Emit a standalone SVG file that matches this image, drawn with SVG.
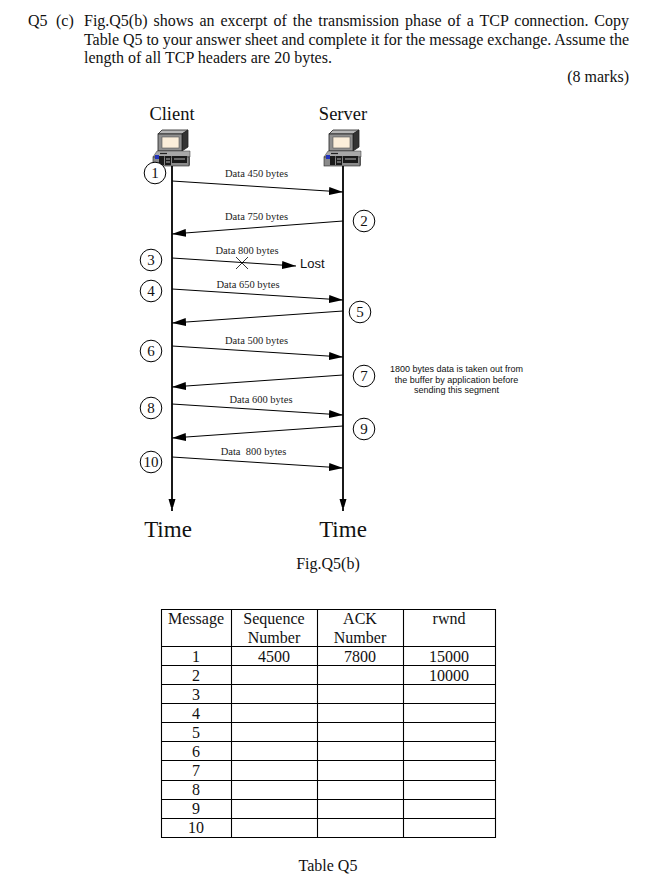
<svg xmlns="http://www.w3.org/2000/svg" width="672" height="886" viewBox="0 0 672 886">
<style>
text{font-family:"Liberation Serif","Times New Roman",serif;fill:#111}
.b{font-size:16px}
.big{font-size:18.5px}
.huge{font-size:23px;text-anchor:middle}
.d{font-size:10.5px;text-anchor:middle;fill:#222}
.s{font-family:"Liberation Sans",Arial,sans-serif;font-size:9px;text-anchor:middle}
.n{font-size:15px;text-anchor:middle}
.c{font-size:16px;text-anchor:middle}
.msg{stroke:#000;stroke-width:1;fill:none;marker-end:url(#ah)}
.life{stroke:#000;stroke-width:1.8;fill:none;marker-end:url(#lh)}
.circ{fill:#fff;stroke:#000;stroke-width:1}
.g{stroke:#000;stroke-width:1.1;fill:none}
</style>
<defs>
<marker id="ah" markerUnits="userSpaceOnUse" markerWidth="14" markerHeight="8" refX="14" refY="4" orient="auto"><path d="M0 0L14 4L0 8Z" fill="#000"/></marker>
<marker id="lh" markerUnits="userSpaceOnUse" markerWidth="8" markerHeight="14" refX="12" refY="3.500" orient="auto"><path d="M0 0L12 3.500L0 7Z" fill="#000"/></marker>
<g id="pc">
<path d="M-14 -33L-10 -37H16L10 -33Z" fill="#b5b5b5" stroke="#222" stroke-width=".8"/>
<path d="M10 -33L16 -37V-20L10 -16Z" fill="#333" stroke="#222" stroke-width=".8"/>
<rect x="-14" y="-33" width="24" height="17" fill="#8f8f8f" stroke="#222" stroke-width=".8"/>
<rect x="-10" y="-30" width="17" height="11" fill="#fbeeda" stroke="#555" stroke-width=".6"/>
<path d="M-19 -10L-15 -16H18L18 -10Z" fill="#a8a8a8" stroke="#333" stroke-width=".5"/>
<rect x="-19" y="-10" width="36" height="9" fill="#8a8a8a" stroke="#222" stroke-width=".6"/>
<path d="M17 -10L18 -11V-2L17 -1Z" fill="#555"/>
<rect x="-13" y="-11" width="5" height="9" fill="#1a1a1a"/>
<rect x="-7" y="-11" width="6" height="9" fill="#1a1a1a"/>
<rect x="0" y="-11" width="15" height="7" fill="#1a1a1a"/>
<rect x="-17" y="-12" width="4" height="4" fill="#2233bb"/>
<path d="M-6 -8H-2M-6 -5H-2M2 -8H13" stroke="#ddd" stroke-width=".8"/>
<path d="M-12 -13.500H-5" stroke="#222" stroke-width="1.200"/>
</g>
</defs>
<rect width="672" height="886" fill="#fff"/>
<g id="question" class="b">
<text x="28" y="26">Q5</text><text x="56" y="26">(c)</text>
<text x="84" y="26" textLength="545" style="word-spacing:2px">Fig.Q5(b) shows an excerpt of the transmission phase of a TCP connection. Copy</text>
<text x="84" y="45" textLength="545">Table Q5 to your answer sheet and complete it for the message exchange. Assume the</text>
<text x="84" y="63">length of all TCP headers are 20 bytes.</text>
<text x="629" y="82" text-anchor="end">(8 marks)</text>
</g>
<g id="client"><text class="big" x="172" y="120" text-anchor="middle">Client</text><use href="#pc" x="172" y="167"/></g>
<g id="server"><text class="big" x="343" y="120" text-anchor="middle">Server</text><use href="#pc" x="343" y="167"/></g>
<g id="connectors">
<path class="life" d="M172 166V511"/>
<path class="life" d="M343 166V511"/>
<path class="msg" d="M172 181L343 192"/>
<path class="msg" d="M343 221L172 234"/>
<path class="msg" d="M172 258L296 266"/>
<path class="msg" d="M172 289L343 300"/>
<path class="msg" d="M343 311L172 323"/>
<path class="msg" d="M172 346L343 357"/>
<path class="msg" d="M343 375L172 387"/>
<path class="msg" d="M172 404L343 415"/>
<path class="msg" d="M343 426L172 438"/>
<path class="msg" d="M172 457L343 468"/>
<path d="M236 257L248 269M248 257L236 269" stroke="#000" stroke-width=".8"/>
</g>
<g id="labels">
<text class="d" x="256.500" y="177">Data 450 bytes</text>
<text class="d" x="256.500" y="220">Data 750 bytes</text>
<text class="d" x="247" y="254">Data 800 bytes</text>
<text class="d" x="248" y="288">Data 650 bytes</text>
<text class="d" x="256.500" y="344">Data 500 bytes</text>
<text class="d" x="261" y="403">Data 600 bytes</text>
<text class="d" x="253.500" y="455" xml:space="preserve">Data  800 bytes</text>
<text x="300" y="268" style="font-family:'Liberation Sans',Arial,sans-serif;font-size:13px">Lost</text>
<text class="s" x="456.500" y="372">1800 bytes data is taken out from</text>
<text class="s" x="456.500" y="383">the buffer by application before</text>
<text class="s" x="456.500" y="393">sending this segment</text>
<text class="huge" x="168" y="537">Time</text>
<text class="huge" x="343" y="537">Time</text>
<text class="c" x="328" y="569">Fig.Q5(b)</text>
<text class="c" x="328" y="871">Table Q5</text>
</g>
<g id="n1"><circle class="circ" cx="155" cy="173" r="10.800"/><text class="n" x="155" y="178">1</text></g>
<g id="n2"><circle class="circ" cx="364" cy="221" r="10.800"/><text class="n" x="364" y="226">2</text></g>
<g id="n3"><circle class="circ" cx="151" cy="260" r="10.800"/><text class="n" x="151" y="265">3</text></g>
<g id="n4"><circle class="circ" cx="151" cy="291" r="10.800"/><text class="n" x="151" y="296">4</text></g>
<g id="n5"><circle class="circ" cx="360" cy="312" r="10.800"/><text class="n" x="360" y="317">5</text></g>
<g id="n6"><circle class="circ" cx="151" cy="351" r="10.800"/><text class="n" x="151" y="356">6</text></g>
<g id="n7"><circle class="circ" cx="364" cy="376" r="10.800"/><text class="n" x="364" y="381">7</text></g>
<g id="n8"><circle class="circ" cx="151" cy="408" r="10.800"/><text class="n" x="151" y="413">8</text></g>
<g id="n9"><circle class="circ" cx="364" cy="429" r="10.800"/><text class="n" x="364" y="434">9</text></g>
<g id="n10"><circle class="circ" cx="151" cy="462" r="10.800"/><text class="n" x="151" y="467">10</text></g>
<g id="table">
<path class="g" d="M161.500 609.500H495.500V837.500H161.500ZM231.500 609.500V837.500M317.500 609.500V837.500M403.500 609.500V837.500M161.500 646.500H495.500M161.500 665.500H495.500M161.500 684.500H495.500M161.500 703.500H495.500M161.500 722.500H495.500M161.500 741.500H495.500M161.500 760.500H495.500M161.500 780.500H495.500M161.500 799.500H495.500M161.500 818.500H495.500"/>
<g class="c">
<text class="c" x="196" y="624">Message</text>
<text class="c" x="274" y="624">Sequence</text><text class="c" x="274" y="643">Number</text>
<text class="c" x="360" y="624">ACK</text><text class="c" x="360" y="643">Number</text>
<text class="c" x="449" y="624">rwnd</text>
<text class="c" x="196" y="662">1</text><text class="c" x="274" y="662">4500</text><text class="c" x="360" y="662">7800</text><text class="c" x="449" y="662">15000</text>
<text class="c" x="196" y="681">2</text><text class="c" x="449" y="681">10000</text>
<text class="c" x="196" y="700">3</text>
<text class="c" x="196" y="719">4</text>
<text class="c" x="196" y="738">5</text>
<text class="c" x="196" y="757">6</text>
<text class="c" x="196" y="776">7</text>
<text class="c" x="196" y="795">8</text>
<text class="c" x="196" y="814">9</text>
<text class="c" x="196" y="833">10</text>
</g>
</g>
</svg>
